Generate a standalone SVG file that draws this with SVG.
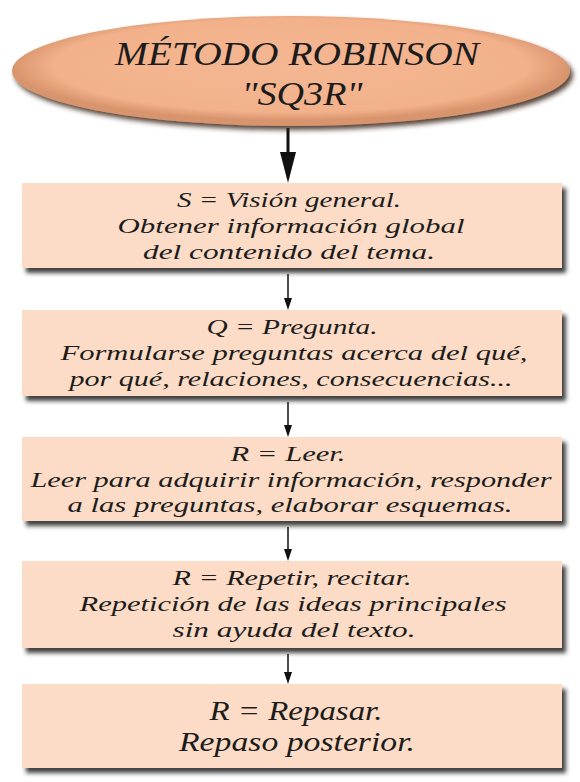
<svg xmlns="http://www.w3.org/2000/svg" width="580" height="782" viewBox="0 0 580 782">
<style>
.box{fill:#FCDCC6;filter:url(#sh)}
.t{font-family:"Liberation Serif","DejaVu Serif",serif;font-style:italic;font-size:22px;fill:#1c1c1c;text-anchor:middle}
.t5{font-size:27px}
.title{font-family:"Liberation Serif","DejaVu Serif",serif;font-style:italic;font-size:34px;fill:#1c1c1c;text-anchor:middle}
.conn{stroke:#111;stroke-width:1.5;fill:none}
.head{fill:#111}
</style>
<defs>
<filter id="sh" x="-5%" y="-20%" width="112%" height="150%">
<feGaussianBlur in="SourceAlpha" stdDeviation="2"/>
<feOffset dx="4" dy="5" result="b"/>
<feFlood flood-color="#222" flood-opacity="0.85"/>
<feComposite in2="b" operator="in"/>
<feMerge><feMergeNode/><feMergeNode in="SourceGraphic"/></feMerge>
</filter>
<filter id="esh" x="-5%" y="-20%" width="112%" height="150%">
<feGaussianBlur in="SourceAlpha" stdDeviation="2.5"/>
<feOffset dx="3" dy="4" result="b"/>
<feFlood flood-color="#3a2418" flood-opacity="0.85"/>
<feComposite in2="b" operator="in"/>
<feMerge><feMergeNode/><feMergeNode in="SourceGraphic"/></feMerge>
</filter>
<radialGradient id="eg" cx="50%" cy="45%" r="50%">
<stop offset="0" stop-color="#F4B792"/>
<stop offset="0.85" stop-color="#F2B18B"/>
<stop offset="1" stop-color="#D8946D"/>
</radialGradient>
</defs>

<g id="connectors">
<line x1="288" y1="128" x2="288" y2="155" stroke="#111" stroke-width="3"/>
<polygon class="head" points="280,152 296,152 288,183"/>
<line class="conn" x1="288" y1="274" x2="288" y2="299"/>
<polygon class="head" points="284,298 292,298 288,310"/>
<line class="conn" x1="288" y1="402" x2="288" y2="426"/>
<polygon class="head" points="284,425 292,425 288,437"/>
<line class="conn" x1="288" y1="527" x2="288" y2="550"/>
<polygon class="head" points="284,549 292,549 288,561"/>
<line class="conn" x1="288" y1="654" x2="288" y2="673"/>
<polygon class="head" points="284,672 292,672 288,684"/>
</g>

<g id="title">
<ellipse cx="291" cy="71" rx="279" ry="55" fill="url(#eg)" filter="url(#esh)"/>
<text class="title" x="297" y="65" textLength="364" lengthAdjust="spacingAndGlyphs">MÉTODO ROBINSON</text>
<text class="title" x="302" y="105" textLength="121" lengthAdjust="spacingAndGlyphs">"SQ3R"</text>
</g>

<g id="s">
<rect class="box" x="22" y="183" width="540" height="85"/>
<text class="t" x="289" y="207" textLength="224" lengthAdjust="spacingAndGlyphs">S = Visión general.</text>
<text class="t" x="291" y="233" textLength="347" lengthAdjust="spacingAndGlyphs">Obtener información global</text>
<text class="t" x="289" y="259" textLength="292" lengthAdjust="spacingAndGlyphs">del contenido del tema.</text>
</g>

<g id="q">
<rect class="box" x="22" y="310" width="540" height="86"/>
<text class="t" x="292" y="334" textLength="171" lengthAdjust="spacingAndGlyphs">Q = Pregunta.</text>
<text class="t" x="294" y="360" textLength="467" lengthAdjust="spacingAndGlyphs">Formularse preguntas acerca del qué,</text>
<text class="t" x="291" y="386" textLength="443" lengthAdjust="spacingAndGlyphs">por qué, relaciones, consecuencias...</text>
</g>

<g id="r1">
<rect class="box" x="22" y="437" width="540" height="84"/>
<text class="t" x="288" y="461" textLength="115" lengthAdjust="spacingAndGlyphs">R = Leer.</text>
<text class="t" x="291" y="487" textLength="521" lengthAdjust="spacingAndGlyphs">Leer para adquirir información, responder</text>
<text class="t" x="290" y="512" textLength="445" lengthAdjust="spacingAndGlyphs">a las preguntas, elaborar esquemas.</text>
</g>

<g id="r2">
<rect class="box" x="22" y="561" width="540" height="87"/>
<text class="t" x="292" y="585" textLength="239" lengthAdjust="spacingAndGlyphs">R = Repetir, recitar.</text>
<text class="t" x="293" y="611" textLength="427" lengthAdjust="spacingAndGlyphs">Repetición de las ideas principales</text>
<text class="t" x="294" y="637" textLength="243" lengthAdjust="spacingAndGlyphs">sin ayuda del texto.</text>
</g>

<g id="r3">
<rect class="box" x="22" y="684" width="540" height="84"/>
<text class="t t5" x="296" y="720" textLength="173" lengthAdjust="spacingAndGlyphs">R = Repasar.</text>
<text class="t t5" x="297" y="751" textLength="236" lengthAdjust="spacingAndGlyphs">Repaso posterior.</text>
</g>
</svg>
